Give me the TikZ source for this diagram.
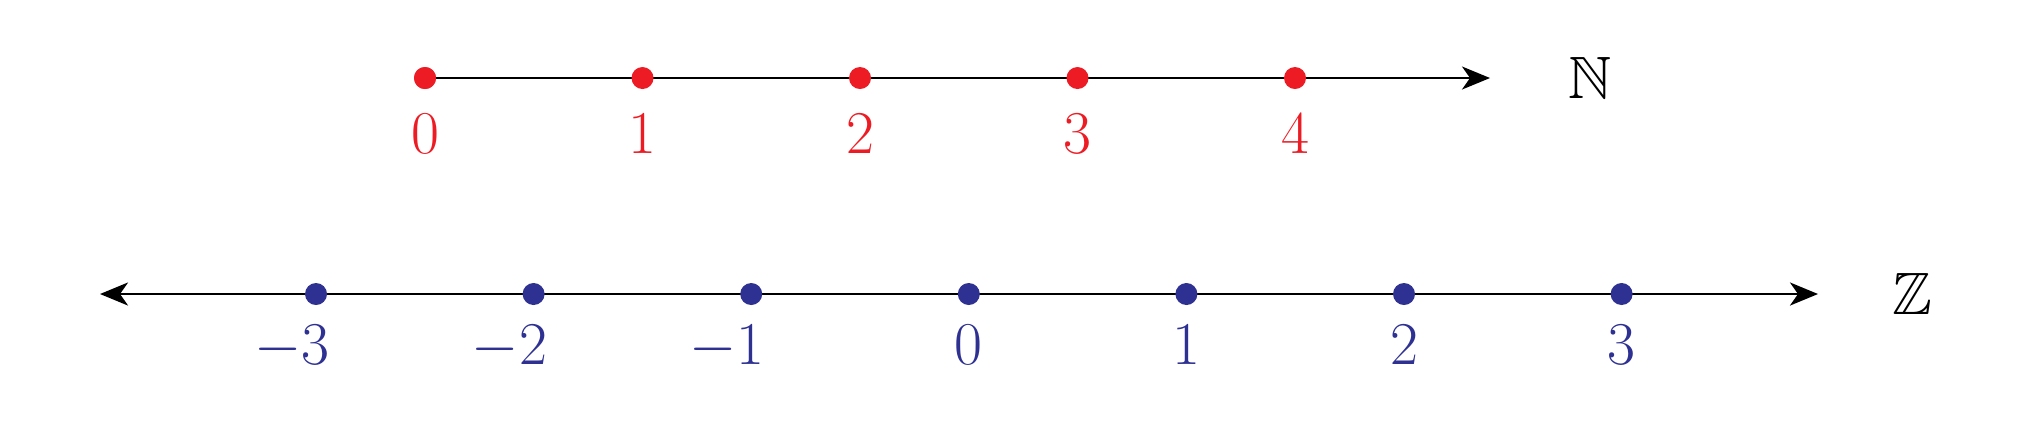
\documentclass[tikz,border=0pt]{standalone}
\usepackage{amssymb}
\usetikzlibrary{arrows.meta}
\definecolor{nred}{RGB}{237,28,36}
\definecolor{zblue}{RGB}{46,49,146}
\begin{document}
\begin{tikzpicture}[x=0.01cm,y=-0.01cm,
  tip/.style={-{Stealth[length=0.28cm,width=0.23cm,inset=0.08cm]}},
  dotn/.style={circle,fill=nred,inner sep=0pt,minimum size=0.22cm},
  dotz/.style={circle,fill=zblue,inner sep=0pt,minimum size=0.22cm},
  lbln/.style={text=nred,font=\fontsize{17}{20}\selectfont,inner sep=0pt},
  lblz/.style={text=zblue,font=\fontsize{17}{20}\selectfont,inner sep=0pt},
  setlbl/.style={font=\fontsize{17}{20}\selectfont,inner sep=0pt}]
\useasboundingbox (0,0) rectangle (2025,438);
% N line
\coordinate (nend) at (1490,78);
\node[dotn] (n0) at (425,78) {};
\draw[line width=0.55pt,tip] (n0.center) -- (nend);
\foreach \i/\x in {0/425,1/642.5,2/860,3/1077.5,4/1295}{
  \node[dotn] (n\i) at (\x,78) {};
  \node[lbln] (ln\i) at (\x,134) {$\i$};
}
\node[setlbl] (N) at (1590,78) {$\mathbb{N}$};
% Z line
\coordinate (zl) at (100,294);
\coordinate (zr) at (1818,294);
\draw[line width=0.8pt,{Stealth[length=0.28cm,width=0.23cm,inset=0.08cm]}-{Stealth[length=0.28cm,width=0.23cm,inset=0.08cm]}] (zl) -- (zr);
\foreach \i/\lab/\x in {a/-3/316,b/-2/533.6,c/-1/751.2,d/0/968.8,e/1/1186.4,f/2/1404,g/3/1621.6}{
  \node[dotz] (z\i) at (\x,294) {};
}
\foreach \i/\lab/\x in {a/-3/316,b/-2/533.6,c/-1/751.2}{
  \node[lblz,anchor=base east] (lz\i) at (\x+14,364) {$\lab$};
}
\foreach \i/\lab/\x in {d/0/968.8,e/1/1186.4,f/2/1404,g/3/1621.6}{
  \node[lblz,anchor=base] (lz\i) at (\x,364) {$\lab$};
}
\node[setlbl] (Z) at (1912,294) {$\mathbb{Z}$};
\end{tikzpicture}
\end{document}
